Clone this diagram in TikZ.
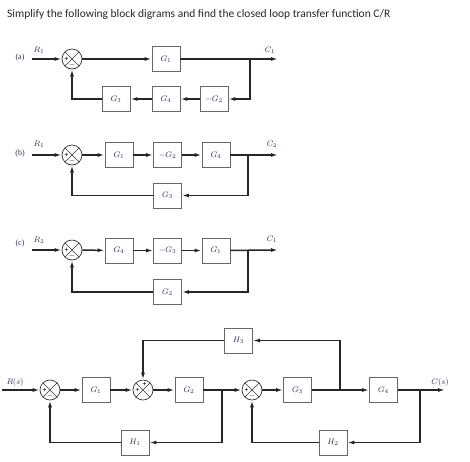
\documentclass[tikz,border=0pt]{standalone}
\usepackage{fontspec}
\setmainfont{Liberation Serif}
\newfontfamily\titlefont{Carlito}
\usetikzlibrary{arrows.meta}
\definecolor{labc}{RGB}{35,45,85}
\begin{document}
\begin{tikzpicture}[x=1pt,y=-1pt,
  blk/.style={draw=black!60, line width=0.7pt, minimum width=28pt, minimum height=25pt, inner sep=0pt, font=\fontsize{8.5}{9}\selectfont, text=labc, fill=white},
  sumj/.style={circle, draw=black!80, line width=0.7pt, minimum size=20pt, inner sep=0pt, fill=white,
    path picture={\draw[line width=0.6pt] (path picture bounding box.north west) -- (path picture bounding box.south east) (path picture bounding box.north east) -- (path picture bounding box.south west);}},
  sgn/.style={inner sep=0pt, font=\fontsize{7.5}{7.5}\selectfont\bfseries, text=black},
  sig/.style={inner sep=0pt, font=\fontsize{8.5}{9}\selectfont, text=labc},
  lab/.style={inner sep=0pt, font=\fontsize{8}{8}\selectfont, text=labc},
  conn/.style={line width=1.5pt, draw=black!85},
  arr/.style={-{Latex[length=7pt,width=4pt]}}
]
\useasboundingbox (0,0) rectangle (470,461);
\node[anchor=west, font=\titlefont\fontsize{11.5}{12}\selectfont, text=black!85, inner sep=0pt] (title) at (7,14) {Simplify the following block digrams and find the closed loop transfer function C/R};

% ---------- (a)
\node[lab] (la) at (20,58) {(a)};
\coordinate (ain) at (32,59);
\node[sumj] (as) at (72,59) {};
\node[sgn,xshift=-5.5pt] (asp) at (as) {+};
\node[sgn,yshift=-5.5pt] (asm) at (as) {$-$};
\node[blk] (ag1) at (166,59) {$G_1$};
\coordinate (abr) at (250,59);
\coordinate (aout) at (278,59);
\node[sig] (aR) at (39,50) {$R_1$};
\node[sig] (aC) at (270,50) {$C_1$};
\node[blk] (ag2) at (214,99) {$-G_2$};
\node[blk] (ag4) at (166,99) {$G_4$};
\node[blk] (ag3) at (116,99) {$G_3$};
\draw[conn,arr] (ain) -- (as);
\draw[conn,arr] (as) -- (ag1);
\draw[conn,arr] (ag1) -- (aout);
\draw[conn,arr] (abr) |- (ag2);
\draw[conn,arr] (ag2) -- (ag4);
\draw[conn,arr] (ag4) -- (ag3);
\draw[conn,arr] (ag3) -| (as);

% ---------- (b)
\node[lab] (lb) at (20,154) {(b)};
\coordinate (bin) at (32,155);
\node[sumj] (bs) at (72,155) {};
\node[sgn,xshift=-5.5pt] (bsp) at (bs) {+};
\node[sgn,yshift=-5.5pt] (bsm) at (bs) {$-$};
\node[blk] (bg1) at (119,155) {$G_1$};
\node[blk] (bg2) at (167.5,155) {$-G_2$};
\node[blk] (bg4) at (216,155) {$G_4$};
\coordinate (bbr) at (248,155);
\coordinate (bout) at (278,155);
\node[sig] (bR) at (39,144) {$R_1$};
\node[sig] (bC) at (272,144) {$C_2$};
\node[blk] (bg3) at (167.5,195.5) {$G_3$};
\draw[conn,arr] (bin) -- (bs);
\draw[conn,arr] (bs) -- (bg1);
\draw[conn,arr] (bg1) -- (bg2);
\draw[conn,arr] (bg2) -- (bg4);
\draw[conn,arr] (bg4) -- (bout);
\draw[conn,arr] (bbr) |- (bg3);
\draw[conn,arr] (bg3) -| (bs);

% ---------- (c)
\node[lab] (lc) at (20,244) {(c)};
\coordinate (cin) at (32,250);
\node[sumj] (cs) at (72,250) {};
\node[sgn,xshift=-5.5pt] (csp) at (cs) {+};
\node[sgn,yshift=-5.5pt] (csm) at (cs) {$-$};
\node[blk] (cg4) at (119,250.5) {$G_4$};
\node[blk] (cg3) at (167.5,250.5) {$-G_3$};
\node[blk] (cg1) at (216,250.5) {$G_1$};
\coordinate (cbr) at (248,250);
\coordinate (cout) at (278,250);
\node[sig] (cR) at (39,240) {$R_2$};
\node[sig] (cC) at (272,239) {$C_1$};
\node[blk] (cg2) at (167.5,292) {$G_2$};
\draw[conn,arr] (cin) -- (cs);
\draw[conn,arr] (cs) -- (cg4);
\draw[conn,arr] (cg4) -- (cg3);
\draw[conn,arr] (cg3) -- (cg1);
\draw[conn,arr] (cg1) -- (cout);
\draw[conn,arr] (cbr) |- (cg2);
\draw[conn,arr] (cg2) -| (cs);

% ---------- (d)
\node[sig] (dR) at (15,382) {$R(s)$};
\coordinate (din) at (2,390);
\node[sumj] (ds1) at (50,390) {};
\node[sgn,xshift=-5.5pt] (ds1p) at (ds1) {+};
\node[sgn,yshift=-5.5pt] (ds1m) at (ds1) {$-$};
\node[blk] (dg1) at (96,390) {$G_1$};
\node[sumj] (ds2) at (143,390) {};
\node[sgn,xshift=-5.5pt] (ds2p) at (ds2) {+};
\node[sgn,yshift=5.5pt,xshift=1.5pt] (ds2q) at (ds2) {+};
\node[blk] (dg2) at (189,390) {$G_2$};
\coordinate (db1) at (222,390);
\node[sumj] (ds3) at (252,390) {};
\node[sgn,xshift=-5.5pt] (ds3p) at (ds3) {+};
\node[sgn,yshift=-5.5pt] (ds3m) at (ds3) {$-$};
\node[blk] (dg3) at (297.5,390) {$G_3$};
\coordinate (db2) at (340,390);
\node[blk] (dg4) at (383.5,390) {$G_4$};
\coordinate (db3) at (420,390);
\coordinate (dout) at (445,390);
\node[sig] (dC) at (440,382) {$C(s)$};
\node[blk] (dh1) at (135,442.5) {$H_1$};
\node[blk] (dh2) at (333,442.5) {$H_2$};
\node[blk] (dh3) at (238.5,340.5) {$H_3$};
\draw[conn,arr] (din) -- (ds1);
\draw[conn,arr] (ds1) -- (dg1);
\draw[conn,arr] (dg1) -- (ds2);
\draw[conn,arr] (ds2) -- (dg2);
\draw[conn,arr] (dg2) -- (ds3);
\draw[conn,arr] (ds3) -- (dg3);
\draw[conn,arr] (dg3) -- (dg4);
\draw[conn,arr] (dg4) -- (dout);
\draw[conn,arr] (db1) |- (dh1);
\draw[conn,arr] (dh1) -| (ds1);
\draw[conn,arr] (db2) |- (dh3);
\draw[conn,arr] (dh3) -| (ds2);
\draw[conn,arr] (db3) |- (dh2);
\draw[conn,arr] (dh2) -| (ds3);
\end{tikzpicture}
\end{document}
